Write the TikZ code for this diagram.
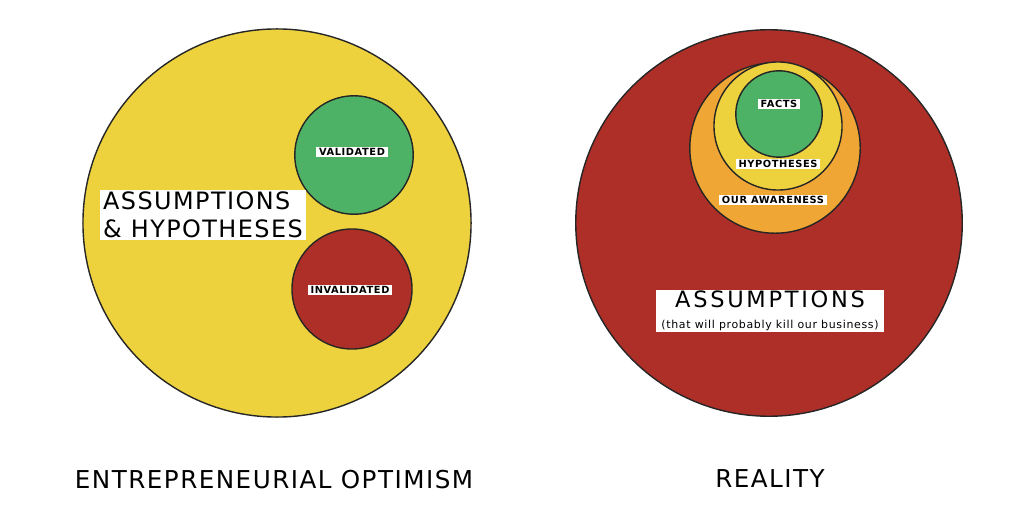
\documentclass[tikz,border=0pt]{standalone}
\usepackage{fontspec}
\setmainfont{DejaVu Sans}
\newfontfamily\sketchfont[LetterSpace=6]{DejaVu Sans}
\newfontfamily\widefont[LetterSpace=12]{DejaVu Sans}
\definecolor{sunyellow}{RGB}{237,210,62}
\definecolor{leafgreen}{RGB}{78,178,102}
\definecolor{brickred}{RGB}{174,46,40}
\definecolor{warmorange}{RGB}{239,166,52}
\tikzset{
  blob/.style={draw=black!85, line width=1pt},
  tag/.style={fill=white, inner xsep=2pt, inner ysep=1pt, font=\sketchfont, align=center},
  smalltag/.style={tag, font=\sketchfont\bfseries\fontsize{7}{8}\selectfont}
}
\begin{document}
\begin{tikzpicture}[x=0.025cm, y=-0.025cm]
        \useasboundingbox (0,0) rectangle (1024,524);
        % Optimism
        \draw[blob, fill=sunyellow] (277,223) circle (4.85cm);
        \draw[blob, fill=leafgreen] (354,155) circle (1.48cm);
        \draw[blob, fill=brickred] (352,289) circle (1.5cm);
        \node[tag, font=\sketchfont\fontsize{17}{20}\selectfont, align=left] (hyp) at (203,215) {ASSUMPTIONS\\\& HYPOTHESES};
        \node[smalltag] (val) at (352,152) {VALIDATED};
        \node[smalltag] (inval) at (350,290) {INVALIDATED};
        
        % Reality
        \draw[blob, fill=brickred] (769,223) circle (4.83cm);
        \draw[blob, fill=warmorange] (775,148) circle (2.13cm);
        \draw[blob, fill=sunyellow] (778,126) circle (1.6cm);
        \draw[blob, fill=leafgreen] (779,114) circle (1.08cm);
        \node[smalltag] (facts) at (779,104) {FACTS};
        \node[smalltag] (hypo) at (778,164) {HYPOTHESES};
        \node[smalltag] (aware) at (773,200) {OUR AWARENESS};
        \node[tag, font=\widefont\fontsize{16}{16}\selectfont, inner xsep=4pt] (assum) at (770,311) {ASSUMPTIONS\\[-1pt]{\sketchfont\fontsize{7.8}{8}\selectfont(that will probably kill our business)}};
        
        % Captions
        \node[font=\sketchfont\fontsize{17.5}{20}\selectfont] (opt) at (274,480) {ENTREPRENEURIAL OPTIMISM};
        \node[font=\sketchfont\fontsize{17.5}{20}\selectfont] (real) at (770,479) {REALITY};
    \end{tikzpicture}
\end{document}
